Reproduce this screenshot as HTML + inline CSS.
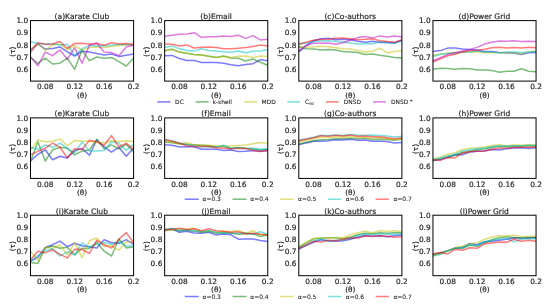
<!DOCTYPE html>
<html><head><meta charset="utf-8"><title>Figure</title>
<style>html,body{margin:0;padding:0;background:#fff}svg{display:block;filter:blur(0.3px)}</style></head>
<body>
<svg width="550" height="307" viewBox="0 0 550 307" font-family="DejaVu Sans, Liberation Sans, sans-serif" fill="#262626" stroke="#262626" stroke-width="0.18">
<rect width="550" height="307" fill="#fff" stroke="none"/>
<g>
<polyline points="30.50,49.90 37.86,43.80 45.23,49.10 52.59,48.60 59.96,46.90 67.32,51.90 74.69,56.00 82.05,51.20 89.41,51.90 96.78,53.60 104.14,55.10 111.51,54.10 118.87,56.40 126.24,55.30 133.60,53.90" fill="none" stroke="rgb(0,0,255)" stroke-opacity="0.52" stroke-width="1.5" stroke-linejoin="round"/>
<polyline points="30.50,57.20 37.86,63.40 45.23,58.20 52.59,64.00 59.96,63.20 67.32,58.20 74.69,69.30 82.05,50.10 89.41,60.70 96.78,57.00 104.14,58.20 111.51,57.40 118.87,61.70 126.24,66.00 133.60,58.20" fill="none" stroke="rgb(0,128,0)" stroke-opacity="0.52" stroke-width="1.5" stroke-linejoin="round"/>
<polyline points="30.50,49.10 37.86,44.00 45.23,50.30 52.59,45.10 59.96,44.00 67.32,49.60 74.69,45.60 82.05,50.10 89.41,47.60 96.78,47.10 104.14,47.60 111.51,46.60 118.87,45.60 126.24,45.10 133.60,45.10" fill="none" stroke="rgb(191,191,0)" stroke-opacity="0.52" stroke-width="1.5" stroke-linejoin="round"/>
<polyline points="30.50,41.80 37.86,43.50 45.23,44.00 52.59,44.00 59.96,45.10 67.32,44.20 74.69,55.70 82.05,48.60 89.41,45.60 96.78,46.10 104.14,45.90 111.51,45.30 118.87,44.20 126.24,44.60 133.60,44.90" fill="none" stroke="rgb(0,191,191)" stroke-opacity="0.52" stroke-width="1.5" stroke-linejoin="round"/>
<polyline points="30.50,52.60 37.86,42.80 45.23,44.20 52.59,44.00 59.96,41.50 67.32,48.30 74.69,43.50 82.05,43.20 89.41,44.20 96.78,43.50 104.14,45.30 111.51,42.80 118.87,44.00 126.24,43.50 133.60,44.20" fill="none" stroke="rgb(255,0,0)" stroke-opacity="0.52" stroke-width="1.5" stroke-linejoin="round"/>
<polyline points="30.50,56.70 37.86,65.70 45.23,52.10 52.59,55.70 59.96,49.90 67.32,59.20 74.69,47.60 82.05,63.20 89.41,45.30 96.78,43.00 104.14,52.10 111.51,52.60 118.87,55.70 126.24,47.10 133.60,45.30" fill="none" stroke="rgb(191,0,191)" stroke-opacity="0.52" stroke-width="1.5" stroke-linejoin="round"/>
<rect x="30.50" y="20.60" width="103.1" height="60.5" fill="none" stroke="#000" stroke-width="1.0"/>
<text x="81.90" y="19.00" font-size="7.55" text-anchor="middle">(a)Karate Club</text>
<text x="28.20" y="23.30" font-size="7.4" text-anchor="end">1.0</text>
<text x="28.20" y="35.40" font-size="7.4" text-anchor="end">0.9</text>
<text x="28.20" y="47.50" font-size="7.4" text-anchor="end">0.8</text>
<text x="28.20" y="59.60" font-size="7.4" text-anchor="end">0.7</text>
<text x="28.20" y="71.70" font-size="7.4" text-anchor="end">0.6</text>
<text x="45.23" y="89.20" font-size="7.4" text-anchor="middle">0.08</text>
<text x="74.69" y="89.20" font-size="7.4" text-anchor="middle">0.12</text>
<text x="104.14" y="89.20" font-size="7.4" text-anchor="middle">0.16</text>
<text x="133.60" y="89.20" font-size="7.4" text-anchor="middle">0.2</text>
<text x="82.05" y="97.80" font-size="7.3" text-anchor="middle">(θ)</text>
<text transform="translate(15.10,51.65) rotate(-90)" font-size="7.3" text-anchor="middle">(τ)</text>
</g>
<g>
<polyline points="164.65,55.80 172.01,55.40 179.38,58.50 186.74,60.40 194.11,60.40 201.47,62.50 208.84,62.50 216.20,62.60 223.56,63.20 230.93,64.70 238.29,65.70 245.66,64.40 253.02,63.70 260.39,59.70 267.75,60.70" fill="none" stroke="rgb(0,0,255)" stroke-opacity="0.52" stroke-width="1.5" stroke-linejoin="round"/>
<polyline points="164.65,50.80 172.01,49.20 179.38,52.10 186.74,53.30 194.11,54.50 201.47,55.00 208.84,56.30 216.20,57.50 223.56,56.00 230.93,57.90 238.29,58.20 245.66,61.00 253.02,59.10 260.39,62.20 267.75,65.30" fill="none" stroke="rgb(0,128,0)" stroke-opacity="0.52" stroke-width="1.5" stroke-linejoin="round"/>
<polyline points="164.65,50.80 172.01,49.20 179.38,52.10 186.74,53.30 194.11,54.50 201.47,55.00 208.84,56.30 216.20,57.30 223.56,56.60 230.93,57.50 238.29,56.30 245.66,56.00 253.02,57.50 260.39,56.00 267.75,56.60" fill="none" stroke="rgb(191,191,0)" stroke-opacity="0.52" stroke-width="1.5" stroke-linejoin="round"/>
<polyline points="164.65,47.60 172.01,46.10 179.38,48.60 186.74,50.40 194.11,51.10 201.47,48.80 208.84,50.40 216.20,51.00 223.56,51.70 230.93,52.30 238.29,51.10 245.66,52.70 253.02,51.30 260.39,51.10 267.75,49.80" fill="none" stroke="rgb(0,191,191)" stroke-opacity="0.52" stroke-width="1.5" stroke-linejoin="round"/>
<polyline points="164.65,43.90 172.01,44.20 179.38,45.90 186.74,44.90 194.11,48.00 201.47,47.30 208.84,47.10 216.20,47.40 223.56,48.80 230.93,48.80 238.29,48.30 245.66,47.60 253.02,46.40 260.39,45.10 267.75,46.10" fill="none" stroke="rgb(255,0,0)" stroke-opacity="0.52" stroke-width="1.5" stroke-linejoin="round"/>
<polyline points="164.65,36.20 172.01,35.20 179.38,34.30 186.74,34.00 194.11,32.70 201.47,37.40 208.84,36.80 216.20,36.80 223.56,35.90 230.93,36.40 238.29,35.20 245.66,38.40 253.02,35.60 260.39,39.90 267.75,39.30" fill="none" stroke="rgb(191,0,191)" stroke-opacity="0.52" stroke-width="1.5" stroke-linejoin="round"/>
<rect x="164.65" y="20.60" width="103.1" height="60.5" fill="none" stroke="#000" stroke-width="1.0"/>
<text x="216.05" y="19.00" font-size="7.55" text-anchor="middle">(b)Email</text>
<text x="162.35" y="23.30" font-size="7.4" text-anchor="end">1.0</text>
<text x="162.35" y="35.40" font-size="7.4" text-anchor="end">0.9</text>
<text x="162.35" y="47.50" font-size="7.4" text-anchor="end">0.8</text>
<text x="162.35" y="59.60" font-size="7.4" text-anchor="end">0.7</text>
<text x="162.35" y="71.70" font-size="7.4" text-anchor="end">0.6</text>
<text x="179.38" y="89.20" font-size="7.4" text-anchor="middle">0.08</text>
<text x="208.84" y="89.20" font-size="7.4" text-anchor="middle">0.12</text>
<text x="238.29" y="89.20" font-size="7.4" text-anchor="middle">0.16</text>
<text x="267.75" y="89.20" font-size="7.4" text-anchor="middle">0.2</text>
<text x="216.20" y="97.80" font-size="7.3" text-anchor="middle">(θ)</text>
<text transform="translate(149.25,51.65) rotate(-90)" font-size="7.3" text-anchor="middle">(τ)</text>
</g>
<g>
<polyline points="298.80,51.90 306.16,45.80 313.53,40.70 320.89,38.70 328.26,38.30 335.62,39.70 342.99,39.20 350.35,39.70 357.71,41.20 365.08,42.20 372.44,41.20 379.81,42.40 387.17,42.20 394.54,43.00 401.90,40.20" fill="none" stroke="rgb(0,0,255)" stroke-opacity="0.52" stroke-width="1.5" stroke-linejoin="round"/>
<polyline points="298.80,47.10 306.16,48.80 313.53,49.10 320.89,49.90 328.26,49.50 335.62,49.90 342.99,51.60 350.35,51.90 357.71,52.60 365.08,54.40 372.44,53.90 379.81,55.30 387.17,56.30 394.54,57.50 401.90,58.00" fill="none" stroke="rgb(0,128,0)" stroke-opacity="0.52" stroke-width="1.5" stroke-linejoin="round"/>
<polyline points="298.80,46.80 306.16,47.30 313.53,46.80 320.89,46.30 328.26,46.80 335.62,47.80 342.99,48.80 350.35,49.10 357.71,50.40 365.08,51.90 372.44,51.20 379.81,48.10 387.17,52.90 394.54,51.40 401.90,50.40" fill="none" stroke="rgb(191,191,0)" stroke-opacity="0.52" stroke-width="1.5" stroke-linejoin="round"/>
<polyline points="298.80,43.70 306.16,43.00 313.53,41.70 320.89,41.00 328.26,40.70 335.62,41.40 342.99,42.00 350.35,43.00 357.71,44.10 365.08,43.70 372.44,43.70 379.81,41.70 387.17,42.70 394.54,43.40 401.90,40.70" fill="none" stroke="rgb(0,191,191)" stroke-opacity="0.52" stroke-width="1.5" stroke-linejoin="round"/>
<polyline points="298.80,44.30 306.16,42.20 313.53,40.20 320.89,39.40 328.26,39.20 335.62,38.30 342.99,38.10 350.35,38.70 357.71,39.70 365.08,39.20 372.44,38.70 379.81,40.70 387.17,41.40 394.54,42.20 401.90,39.70" fill="none" stroke="rgb(255,0,0)" stroke-opacity="0.52" stroke-width="1.5" stroke-linejoin="round"/>
<polyline points="298.80,50.90 306.16,45.30 313.53,43.20 320.89,43.20 328.26,43.00 335.62,44.30 342.99,42.70 350.35,40.20 357.71,37.60 365.08,36.60 372.44,38.10 379.81,35.90 387.17,36.90 394.54,36.10 401.90,37.10" fill="none" stroke="rgb(191,0,191)" stroke-opacity="0.52" stroke-width="1.5" stroke-linejoin="round"/>
<rect x="298.80" y="20.60" width="103.1" height="60.5" fill="none" stroke="#000" stroke-width="1.0"/>
<text x="350.20" y="19.00" font-size="7.55" text-anchor="middle">(c)Co-authors</text>
<text x="296.50" y="23.30" font-size="7.4" text-anchor="end">1.0</text>
<text x="296.50" y="35.40" font-size="7.4" text-anchor="end">0.9</text>
<text x="296.50" y="47.50" font-size="7.4" text-anchor="end">0.8</text>
<text x="296.50" y="59.60" font-size="7.4" text-anchor="end">0.7</text>
<text x="296.50" y="71.70" font-size="7.4" text-anchor="end">0.6</text>
<text x="313.53" y="89.20" font-size="7.4" text-anchor="middle">0.08</text>
<text x="342.99" y="89.20" font-size="7.4" text-anchor="middle">0.12</text>
<text x="372.44" y="89.20" font-size="7.4" text-anchor="middle">0.16</text>
<text x="401.90" y="89.20" font-size="7.4" text-anchor="middle">0.2</text>
<text x="350.35" y="97.80" font-size="7.3" text-anchor="middle">(θ)</text>
<text transform="translate(283.40,51.65) rotate(-90)" font-size="7.3" text-anchor="middle">(τ)</text>
</g>
<g>
<polyline points="432.95,51.50 440.31,50.60 447.68,48.10 455.04,48.10 462.41,49.00 469.77,49.40 477.14,49.90 484.50,51.50 491.86,51.50 499.23,52.40 506.59,52.70 513.96,53.10 521.32,54.60 528.69,52.70 536.05,52.40" fill="none" stroke="rgb(0,0,255)" stroke-opacity="0.52" stroke-width="1.5" stroke-linejoin="round"/>
<polyline points="432.95,69.20 440.31,68.20 447.68,68.50 455.04,69.20 462.41,68.50 469.77,68.80 477.14,70.10 484.50,70.10 491.86,70.40 499.23,72.20 506.59,71.30 513.96,71.30 521.32,68.80 528.69,71.30 536.05,71.70" fill="none" stroke="rgb(0,128,0)" stroke-opacity="0.52" stroke-width="1.5" stroke-linejoin="round"/>
<polyline points="432.95,55.20 440.31,54.00 447.68,53.30 455.04,52.70 462.41,52.10 469.77,52.10 477.14,51.90 484.50,52.70 491.86,52.70 499.23,52.70 506.59,52.70 513.96,52.70 521.32,54.00 528.69,51.90 536.05,50.90" fill="none" stroke="rgb(191,191,0)" stroke-opacity="0.52" stroke-width="1.5" stroke-linejoin="round"/>
<polyline points="432.95,56.40 440.31,54.60 447.68,53.60 455.04,52.70 462.41,52.40 469.77,51.90 477.14,51.10 484.50,51.90 491.86,52.10 499.23,52.70 506.59,51.90 513.96,52.10 521.32,52.40 528.69,52.10 536.05,51.50" fill="none" stroke="rgb(0,191,191)" stroke-opacity="0.52" stroke-width="1.5" stroke-linejoin="round"/>
<polyline points="432.95,62.00 440.31,58.90 447.68,55.80 455.04,54.30 462.41,51.90 469.77,50.60 477.14,50.20 484.50,49.20 491.86,47.80 499.23,47.20 506.59,48.10 513.96,47.40 521.32,48.10 528.69,47.20 536.05,47.80" fill="none" stroke="rgb(255,0,0)" stroke-opacity="0.52" stroke-width="1.5" stroke-linejoin="round"/>
<polyline points="432.95,60.80 440.31,57.70 447.68,54.60 455.04,52.70 462.41,50.90 469.77,49.40 477.14,47.40 484.50,44.10 491.86,42.20 499.23,41.00 506.59,41.20 513.96,40.70 521.32,41.60 528.69,41.20 536.05,41.60" fill="none" stroke="rgb(191,0,191)" stroke-opacity="0.52" stroke-width="1.5" stroke-linejoin="round"/>
<rect x="432.95" y="20.60" width="103.1" height="60.5" fill="none" stroke="#000" stroke-width="1.0"/>
<text x="484.35" y="19.00" font-size="7.55" text-anchor="middle">(d)Power Grid</text>
<text x="430.65" y="23.30" font-size="7.4" text-anchor="end">1.0</text>
<text x="430.65" y="35.40" font-size="7.4" text-anchor="end">0.9</text>
<text x="430.65" y="47.50" font-size="7.4" text-anchor="end">0.8</text>
<text x="430.65" y="59.60" font-size="7.4" text-anchor="end">0.7</text>
<text x="430.65" y="71.70" font-size="7.4" text-anchor="end">0.6</text>
<text x="447.68" y="89.20" font-size="7.4" text-anchor="middle">0.08</text>
<text x="477.14" y="89.20" font-size="7.4" text-anchor="middle">0.12</text>
<text x="506.59" y="89.20" font-size="7.4" text-anchor="middle">0.16</text>
<text x="536.05" y="89.20" font-size="7.4" text-anchor="middle">0.2</text>
<text x="484.50" y="97.80" font-size="7.3" text-anchor="middle">(θ)</text>
<text transform="translate(417.55,51.65) rotate(-90)" font-size="7.3" text-anchor="middle">(τ)</text>
</g>
<g>
<polyline points="30.50,161.00 37.86,154.40 45.23,149.80 52.59,159.70 59.96,156.20 67.32,157.90 74.69,150.80 82.05,148.40 89.41,155.30 96.78,139.70 104.14,146.80 111.51,152.20 118.87,147.30 126.24,156.30 133.60,147.90" fill="none" stroke="rgb(0,0,255)" stroke-opacity="0.52" stroke-width="1.5" stroke-linejoin="round"/>
<polyline points="30.50,161.50 37.86,141.70 45.23,161.00 52.59,149.80 59.96,147.30 67.32,148.30 74.69,154.90 82.05,151.10 89.41,149.90 96.78,139.40 104.14,148.90 111.51,144.80 118.87,148.90 126.24,144.30 133.60,151.90" fill="none" stroke="rgb(0,128,0)" stroke-opacity="0.52" stroke-width="1.5" stroke-linejoin="round"/>
<polyline points="30.50,150.30 37.86,139.90 45.23,141.70 52.59,141.30 59.96,138.90 67.32,145.70 74.69,140.60 82.05,141.00 89.41,141.20 96.78,142.10 104.14,143.10 111.51,140.70 118.87,141.40 126.24,140.70 133.60,141.40" fill="none" stroke="rgb(191,191,0)" stroke-opacity="0.52" stroke-width="1.5" stroke-linejoin="round"/>
<polyline points="30.50,147.30 37.86,149.30 45.23,145.00 52.59,147.30 59.96,143.20 67.32,148.30 74.69,152.90 82.05,141.90 89.41,150.90 96.78,150.90 104.14,150.40 111.51,141.70 118.87,143.30 126.24,150.40 133.60,144.30" fill="none" stroke="rgb(0,191,191)" stroke-opacity="0.52" stroke-width="1.5" stroke-linejoin="round"/>
<polyline points="30.50,154.90 37.86,151.30 45.23,148.10 52.59,143.20 59.96,147.30 67.32,157.90 74.69,148.80 82.05,149.60 89.41,140.20 96.78,142.10 104.14,145.30 111.51,135.60 118.87,146.80 126.24,143.30 133.60,149.40" fill="none" stroke="rgb(255,0,0)" stroke-opacity="0.52" stroke-width="1.5" stroke-linejoin="round"/>
<rect x="30.50" y="117.90" width="103.1" height="60.5" fill="none" stroke="#000" stroke-width="1.0"/>
<text x="81.90" y="116.30" font-size="7.55" text-anchor="middle">(e)Karate Club</text>
<text x="28.20" y="120.60" font-size="7.4" text-anchor="end">1.0</text>
<text x="28.20" y="132.70" font-size="7.4" text-anchor="end">0.9</text>
<text x="28.20" y="144.80" font-size="7.4" text-anchor="end">0.8</text>
<text x="28.20" y="156.90" font-size="7.4" text-anchor="end">0.7</text>
<text x="28.20" y="169.00" font-size="7.4" text-anchor="end">0.6</text>
<text x="45.23" y="186.50" font-size="7.4" text-anchor="middle">0.08</text>
<text x="74.69" y="186.50" font-size="7.4" text-anchor="middle">0.12</text>
<text x="104.14" y="186.50" font-size="7.4" text-anchor="middle">0.16</text>
<text x="133.60" y="186.50" font-size="7.4" text-anchor="middle">0.2</text>
<text x="82.05" y="195.10" font-size="7.3" text-anchor="middle">(θ)</text>
<text transform="translate(15.10,148.95) rotate(-90)" font-size="7.3" text-anchor="middle">(τ)</text>
</g>
<g>
<polyline points="164.65,144.80 172.01,145.30 179.38,147.10 186.74,146.80 194.11,146.80 201.47,149.30 208.84,149.30 216.20,149.20 223.56,150.40 230.93,149.90 238.29,151.40 245.66,151.20 253.02,150.40 260.39,151.20 267.75,150.40" fill="none" stroke="rgb(0,0,255)" stroke-opacity="0.52" stroke-width="1.5" stroke-linejoin="round"/>
<polyline points="164.65,142.00 172.01,142.70 179.38,143.70 186.74,144.30 194.11,144.80 201.47,145.30 208.84,145.80 216.20,146.80 223.56,146.30 230.93,148.50 238.29,147.50 245.66,148.30 253.02,148.80 260.39,149.90 267.75,149.10" fill="none" stroke="rgb(0,128,0)" stroke-opacity="0.52" stroke-width="1.5" stroke-linejoin="round"/>
<polyline points="164.65,141.20 172.01,142.20 179.38,143.70 186.74,142.40 194.11,145.10 201.47,145.30 208.84,145.30 216.20,145.80 223.56,146.10 230.93,146.10 238.29,145.50 245.66,145.10 253.02,143.70 260.39,142.40 267.75,143.20" fill="none" stroke="rgb(191,191,0)" stroke-opacity="0.52" stroke-width="1.5" stroke-linejoin="round"/>
<polyline points="164.65,139.70 172.01,140.70 179.38,143.00 186.74,144.80 194.11,145.80 201.47,146.80 208.84,146.80 216.20,147.20 223.56,145.30 230.93,148.30 238.29,147.80 245.66,148.80 253.02,148.30 260.39,149.30 267.75,149.30" fill="none" stroke="rgb(0,191,191)" stroke-opacity="0.52" stroke-width="1.5" stroke-linejoin="round"/>
<polyline points="164.65,139.40 172.01,141.20 179.38,143.20 186.74,145.80 194.11,146.50 201.47,146.50 208.84,146.50 216.20,147.80 223.56,148.30 230.93,148.80 238.29,148.50 245.66,148.30 253.02,150.40 260.39,151.40 267.75,150.40" fill="none" stroke="rgb(255,0,0)" stroke-opacity="0.52" stroke-width="1.5" stroke-linejoin="round"/>
<rect x="164.65" y="117.90" width="103.1" height="60.5" fill="none" stroke="#000" stroke-width="1.0"/>
<text x="216.05" y="116.30" font-size="7.55" text-anchor="middle">(f)Email</text>
<text x="162.35" y="120.60" font-size="7.4" text-anchor="end">1.0</text>
<text x="162.35" y="132.70" font-size="7.4" text-anchor="end">0.9</text>
<text x="162.35" y="144.80" font-size="7.4" text-anchor="end">0.8</text>
<text x="162.35" y="156.90" font-size="7.4" text-anchor="end">0.7</text>
<text x="162.35" y="169.00" font-size="7.4" text-anchor="end">0.6</text>
<text x="179.38" y="186.50" font-size="7.4" text-anchor="middle">0.08</text>
<text x="208.84" y="186.50" font-size="7.4" text-anchor="middle">0.12</text>
<text x="238.29" y="186.50" font-size="7.4" text-anchor="middle">0.16</text>
<text x="267.75" y="186.50" font-size="7.4" text-anchor="middle">0.2</text>
<text x="216.20" y="195.10" font-size="7.3" text-anchor="middle">(θ)</text>
<text transform="translate(149.25,148.95) rotate(-90)" font-size="7.3" text-anchor="middle">(τ)</text>
</g>
<g>
<polyline points="298.80,144.90 306.16,142.90 313.53,141.30 320.89,141.30 328.26,140.80 335.62,139.80 342.99,140.10 350.35,139.30 357.71,140.30 365.08,140.10 372.44,141.30 379.81,141.30 387.17,141.50 394.54,142.90 401.90,142.60" fill="none" stroke="rgb(0,0,255)" stroke-opacity="0.52" stroke-width="1.5" stroke-linejoin="round"/>
<polyline points="298.80,143.90 306.16,142.20 313.53,140.80 320.89,139.80 328.26,139.50 335.62,138.80 342.99,138.80 350.35,138.30 357.71,138.80 365.08,138.30 372.44,139.50 379.81,139.30 387.17,139.50 394.54,140.30 401.90,139.30" fill="none" stroke="rgb(0,128,0)" stroke-opacity="0.52" stroke-width="1.5" stroke-linejoin="round"/>
<polyline points="298.80,141.90 306.16,140.30 313.53,138.80 320.89,137.30 328.26,137.50 335.62,136.80 342.99,137.30 350.35,136.80 357.71,137.30 365.08,137.50 372.44,138.10 379.81,137.80 387.17,138.80 394.54,139.80 401.90,138.80" fill="none" stroke="rgb(191,191,0)" stroke-opacity="0.52" stroke-width="1.5" stroke-linejoin="round"/>
<polyline points="298.80,140.10 306.16,138.80 313.53,137.30 320.89,135.20 328.26,135.40 335.62,135.00 342.99,135.40 350.35,134.60 357.71,135.00 365.08,135.20 372.44,135.00 379.81,135.40 387.17,136.10 394.54,137.10 401.90,136.30" fill="none" stroke="rgb(0,191,191)" stroke-opacity="0.52" stroke-width="1.5" stroke-linejoin="round"/>
<polyline points="298.80,140.80 306.16,139.30 313.53,137.80 320.89,135.70 328.26,136.30 335.62,135.20 342.99,136.10 350.35,135.10 357.71,136.30 365.08,136.10 372.44,136.80 379.81,136.80 387.17,137.80 394.54,138.80 401.90,137.80" fill="none" stroke="rgb(255,0,0)" stroke-opacity="0.52" stroke-width="1.5" stroke-linejoin="round"/>
<rect x="298.80" y="117.90" width="103.1" height="60.5" fill="none" stroke="#000" stroke-width="1.0"/>
<text x="350.20" y="116.30" font-size="7.55" text-anchor="middle">(g)Co-authors</text>
<text x="296.50" y="120.60" font-size="7.4" text-anchor="end">1.0</text>
<text x="296.50" y="132.70" font-size="7.4" text-anchor="end">0.9</text>
<text x="296.50" y="144.80" font-size="7.4" text-anchor="end">0.8</text>
<text x="296.50" y="156.90" font-size="7.4" text-anchor="end">0.7</text>
<text x="296.50" y="169.00" font-size="7.4" text-anchor="end">0.6</text>
<text x="313.53" y="186.50" font-size="7.4" text-anchor="middle">0.08</text>
<text x="342.99" y="186.50" font-size="7.4" text-anchor="middle">0.12</text>
<text x="372.44" y="186.50" font-size="7.4" text-anchor="middle">0.16</text>
<text x="401.90" y="186.50" font-size="7.4" text-anchor="middle">0.2</text>
<text x="350.35" y="195.10" font-size="7.3" text-anchor="middle">(θ)</text>
<text transform="translate(283.40,148.95) rotate(-90)" font-size="7.3" text-anchor="middle">(τ)</text>
</g>
<g>
<polyline points="432.95,160.40 440.31,159.60 447.68,157.40 455.04,154.80 462.41,154.80 469.77,152.10 477.14,151.30 484.50,150.90 491.86,149.50 499.23,149.90 506.59,148.80 513.96,148.10 521.32,147.80 528.69,148.50 536.05,147.80" fill="none" stroke="rgb(0,0,255)" stroke-opacity="0.52" stroke-width="1.5" stroke-linejoin="round"/>
<polyline points="432.95,160.90 440.31,158.90 447.68,156.90 455.04,155.30 462.41,152.80 469.77,151.30 477.14,149.70 484.50,149.10 491.86,147.50 499.23,146.50 506.59,146.80 513.96,146.30 521.32,146.30 528.69,146.10 536.05,146.10" fill="none" stroke="rgb(0,128,0)" stroke-opacity="0.52" stroke-width="1.5" stroke-linejoin="round"/>
<polyline points="432.95,158.90 440.31,156.90 447.68,154.30 455.04,152.80 462.41,149.70 469.77,148.20 477.14,147.70 484.50,146.90 491.86,145.50 499.23,144.80 506.59,145.80 513.96,145.10 521.32,145.30 528.69,144.80 536.05,145.10" fill="none" stroke="rgb(191,191,0)" stroke-opacity="0.52" stroke-width="1.5" stroke-linejoin="round"/>
<polyline points="432.95,159.60 440.31,157.90 447.68,155.90 455.04,154.30 462.41,151.30 469.77,149.70 477.14,148.70 484.50,148.10 491.86,146.80 499.23,145.80 506.59,146.10 513.96,145.80 521.32,145.80 528.69,145.30 536.05,145.50" fill="none" stroke="rgb(0,191,191)" stroke-opacity="0.52" stroke-width="1.5" stroke-linejoin="round"/>
<polyline points="432.95,159.60 440.31,160.40 447.68,157.60 455.04,157.90 462.41,152.80 469.77,151.80 477.14,151.30 484.50,150.90 491.86,149.30 499.23,148.30 506.59,148.10 513.96,147.50 521.32,147.30 528.69,147.30 536.05,147.10" fill="none" stroke="rgb(255,0,0)" stroke-opacity="0.52" stroke-width="1.5" stroke-linejoin="round"/>
<rect x="432.95" y="117.90" width="103.1" height="60.5" fill="none" stroke="#000" stroke-width="1.0"/>
<text x="484.35" y="116.30" font-size="7.55" text-anchor="middle">(h)Power Grid</text>
<text x="430.65" y="120.60" font-size="7.4" text-anchor="end">1.0</text>
<text x="430.65" y="132.70" font-size="7.4" text-anchor="end">0.9</text>
<text x="430.65" y="144.80" font-size="7.4" text-anchor="end">0.8</text>
<text x="430.65" y="156.90" font-size="7.4" text-anchor="end">0.7</text>
<text x="430.65" y="169.00" font-size="7.4" text-anchor="end">0.6</text>
<text x="447.68" y="186.50" font-size="7.4" text-anchor="middle">0.08</text>
<text x="477.14" y="186.50" font-size="7.4" text-anchor="middle">0.12</text>
<text x="506.59" y="186.50" font-size="7.4" text-anchor="middle">0.16</text>
<text x="536.05" y="186.50" font-size="7.4" text-anchor="middle">0.2</text>
<text x="484.50" y="195.10" font-size="7.3" text-anchor="middle">(θ)</text>
<text transform="translate(417.55,148.95) rotate(-90)" font-size="7.3" text-anchor="middle">(τ)</text>
</g>
<g>
<polyline points="30.50,261.00 37.86,257.40 45.23,247.80 52.59,244.70 59.96,241.10 67.32,246.70 74.69,243.20 82.05,245.70 89.41,246.80 96.78,247.90 104.14,239.70 111.51,242.80 118.87,243.30 126.24,239.70 133.60,244.30" fill="none" stroke="rgb(0,0,255)" stroke-opacity="0.52" stroke-width="1.5" stroke-linejoin="round"/>
<polyline points="30.50,262.50 37.86,263.50 45.23,247.80 52.59,246.00 59.96,248.30 67.32,247.30 74.69,254.90 82.05,248.30 89.41,248.40 96.78,242.30 104.14,251.20 111.51,256.00 118.87,238.70 126.24,247.90 133.60,246.80" fill="none" stroke="rgb(0,128,0)" stroke-opacity="0.52" stroke-width="1.5" stroke-linejoin="round"/>
<polyline points="30.50,251.30 37.86,260.50 45.23,247.30 52.59,248.30 59.96,245.00 67.32,254.90 74.69,242.70 82.05,257.70 89.41,240.70 96.78,238.00 104.14,246.30 111.51,245.80 118.87,250.20 126.24,241.70 133.60,242.30" fill="none" stroke="rgb(191,191,0)" stroke-opacity="0.52" stroke-width="1.5" stroke-linejoin="round"/>
<polyline points="30.50,262.00 37.86,255.40 45.23,250.80 52.59,248.80 59.96,255.90 67.32,251.80 74.69,254.90 82.05,242.90 89.41,247.30 96.78,244.30 104.14,242.80 111.51,244.30 118.87,241.70 126.24,246.30 133.60,245.80" fill="none" stroke="rgb(0,191,191)" stroke-opacity="0.52" stroke-width="1.5" stroke-linejoin="round"/>
<polyline points="30.50,260.00 37.86,251.30 45.23,252.90 52.59,249.80 59.96,254.40 67.32,257.90 74.69,249.30 82.05,249.40 89.41,253.50 96.78,240.20 104.14,244.80 111.51,247.90 118.87,239.20 126.24,232.60 133.60,242.80" fill="none" stroke="rgb(255,0,0)" stroke-opacity="0.52" stroke-width="1.5" stroke-linejoin="round"/>
<rect x="30.50" y="215.20" width="103.1" height="60.5" fill="none" stroke="#000" stroke-width="1.0"/>
<text x="81.90" y="213.60" font-size="7.55" text-anchor="middle">(i)Karate Club</text>
<text x="28.20" y="217.90" font-size="7.4" text-anchor="end">1.0</text>
<text x="28.20" y="230.00" font-size="7.4" text-anchor="end">0.9</text>
<text x="28.20" y="242.10" font-size="7.4" text-anchor="end">0.8</text>
<text x="28.20" y="254.20" font-size="7.4" text-anchor="end">0.7</text>
<text x="28.20" y="266.30" font-size="7.4" text-anchor="end">0.6</text>
<text x="45.23" y="283.80" font-size="7.4" text-anchor="middle">0.08</text>
<text x="74.69" y="283.80" font-size="7.4" text-anchor="middle">0.12</text>
<text x="104.14" y="283.80" font-size="7.4" text-anchor="middle">0.16</text>
<text x="133.60" y="283.80" font-size="7.4" text-anchor="middle">0.2</text>
<text x="82.05" y="292.40" font-size="7.3" text-anchor="middle">(θ)</text>
<text transform="translate(15.10,246.25) rotate(-90)" font-size="7.3" text-anchor="middle">(τ)</text>
</g>
<g>
<polyline points="164.65,230.00 172.01,229.00 179.38,232.30 186.74,231.20 194.11,233.10 201.47,233.30 208.84,232.30 216.20,235.10 223.56,234.10 230.93,234.80 238.29,239.20 245.66,238.90 253.02,238.90 260.39,240.40 267.75,241.40" fill="none" stroke="rgb(0,0,255)" stroke-opacity="0.52" stroke-width="1.5" stroke-linejoin="round"/>
<polyline points="164.65,230.20 172.01,229.40 179.38,230.70 186.74,230.20 194.11,231.20 201.47,232.30 208.84,231.20 216.20,233.30 223.56,232.80 230.93,233.30 238.29,234.30 245.66,233.80 253.02,233.80 260.39,236.50 267.75,234.80" fill="none" stroke="rgb(0,128,0)" stroke-opacity="0.52" stroke-width="1.5" stroke-linejoin="round"/>
<polyline points="164.65,230.70 172.01,229.70 179.38,229.20 186.74,229.20 194.11,228.00 201.47,231.70 208.84,230.70 216.20,232.30 223.56,231.20 230.93,231.70 238.29,230.40 245.66,233.30 253.02,230.70 260.39,234.80 267.75,234.80" fill="none" stroke="rgb(191,191,0)" stroke-opacity="0.52" stroke-width="1.5" stroke-linejoin="round"/>
<polyline points="164.65,229.70 172.01,228.20 179.38,230.20 186.74,230.00 194.11,230.40 201.47,231.40 208.84,230.70 216.20,232.30 223.56,232.80 230.93,233.30 238.29,233.30 245.66,233.10 253.02,234.30 260.39,231.70 267.75,234.30" fill="none" stroke="rgb(0,191,191)" stroke-opacity="0.52" stroke-width="1.5" stroke-linejoin="round"/>
<polyline points="164.65,229.40 172.01,229.20 179.38,228.20 186.74,229.40 194.11,228.70 201.47,230.70 208.84,228.70 216.20,230.70 223.56,231.20 230.93,232.30 238.29,231.70 245.66,233.80 253.02,233.30 260.39,234.30 267.75,235.10" fill="none" stroke="rgb(255,0,0)" stroke-opacity="0.52" stroke-width="1.5" stroke-linejoin="round"/>
<rect x="164.65" y="215.20" width="103.1" height="60.5" fill="none" stroke="#000" stroke-width="1.0"/>
<text x="216.05" y="213.60" font-size="7.55" text-anchor="middle">(j)Email</text>
<text x="162.35" y="217.90" font-size="7.4" text-anchor="end">1.0</text>
<text x="162.35" y="230.00" font-size="7.4" text-anchor="end">0.9</text>
<text x="162.35" y="242.10" font-size="7.4" text-anchor="end">0.8</text>
<text x="162.35" y="254.20" font-size="7.4" text-anchor="end">0.7</text>
<text x="162.35" y="266.30" font-size="7.4" text-anchor="end">0.6</text>
<text x="179.38" y="283.80" font-size="7.4" text-anchor="middle">0.08</text>
<text x="208.84" y="283.80" font-size="7.4" text-anchor="middle">0.12</text>
<text x="238.29" y="283.80" font-size="7.4" text-anchor="middle">0.16</text>
<text x="267.75" y="283.80" font-size="7.4" text-anchor="middle">0.2</text>
<text x="216.20" y="292.40" font-size="7.3" text-anchor="middle">(θ)</text>
<text transform="translate(149.25,246.25) rotate(-90)" font-size="7.3" text-anchor="middle">(τ)</text>
</g>
<g>
<polyline points="298.80,249.00 306.16,245.60 313.53,242.20 320.89,239.80 328.26,240.80 335.62,241.30 342.99,240.80 350.35,239.30 357.71,237.30 365.08,235.50 372.44,236.30 379.81,235.80 387.17,236.80 394.54,235.80 401.90,235.10" fill="none" stroke="rgb(0,0,255)" stroke-opacity="0.52" stroke-width="1.5" stroke-linejoin="round"/>
<polyline points="298.80,247.50 306.16,242.90 313.53,238.80 320.89,238.30 328.26,237.80 335.62,237.80 342.99,238.80 350.35,237.30 357.71,234.80 365.08,233.30 372.44,233.80 379.81,232.80 387.17,233.30 394.54,232.80 401.90,232.80" fill="none" stroke="rgb(0,128,0)" stroke-opacity="0.52" stroke-width="1.5" stroke-linejoin="round"/>
<polyline points="298.80,246.40 306.16,242.40 313.53,238.50 320.89,238.10 328.26,237.80 335.62,237.80 342.99,237.80 350.35,235.00 357.71,232.80 365.08,231.20 372.44,232.80 379.81,230.70 387.17,231.20 394.54,230.70 401.90,231.70" fill="none" stroke="rgb(191,191,0)" stroke-opacity="0.52" stroke-width="1.5" stroke-linejoin="round"/>
<polyline points="298.80,248.00 306.16,244.90 313.53,240.80 320.89,239.30 328.26,241.30 335.62,240.30 342.99,239.80 350.35,238.30 357.71,235.80 365.08,234.30 372.44,234.80 379.81,233.80 387.17,234.30 394.54,234.30 401.90,233.80" fill="none" stroke="rgb(0,191,191)" stroke-opacity="0.52" stroke-width="1.5" stroke-linejoin="round"/>
<polyline points="298.80,248.70 306.16,244.90 313.53,241.30 320.89,241.90 328.26,240.30 335.62,240.80 342.99,239.30 350.35,238.10 357.71,237.90 365.08,236.10 372.44,236.50 379.81,235.80 387.17,236.30 394.54,237.30 401.90,236.80" fill="none" stroke="rgb(255,0,0)" stroke-opacity="0.52" stroke-width="1.5" stroke-linejoin="round"/>
<rect x="298.80" y="215.20" width="103.1" height="60.5" fill="none" stroke="#000" stroke-width="1.0"/>
<text x="350.20" y="213.60" font-size="7.55" text-anchor="middle">(k)Co-authors</text>
<text x="296.50" y="217.90" font-size="7.4" text-anchor="end">1.0</text>
<text x="296.50" y="230.00" font-size="7.4" text-anchor="end">0.9</text>
<text x="296.50" y="242.10" font-size="7.4" text-anchor="end">0.8</text>
<text x="296.50" y="254.20" font-size="7.4" text-anchor="end">0.7</text>
<text x="296.50" y="266.30" font-size="7.4" text-anchor="end">0.6</text>
<text x="313.53" y="283.80" font-size="7.4" text-anchor="middle">0.08</text>
<text x="342.99" y="283.80" font-size="7.4" text-anchor="middle">0.12</text>
<text x="372.44" y="283.80" font-size="7.4" text-anchor="middle">0.16</text>
<text x="401.90" y="283.80" font-size="7.4" text-anchor="middle">0.2</text>
<text x="350.35" y="292.40" font-size="7.3" text-anchor="middle">(θ)</text>
<text transform="translate(283.40,246.25) rotate(-90)" font-size="7.3" text-anchor="middle">(τ)</text>
</g>
<g>
<polyline points="432.95,254.60 440.31,252.90 447.68,250.80 455.04,248.10 462.41,247.30 469.77,243.40 477.14,244.70 484.50,241.80 491.86,241.30 499.23,240.30 506.59,239.30 513.96,237.80 521.32,238.30 528.69,237.80 536.05,237.80" fill="none" stroke="rgb(0,0,255)" stroke-opacity="0.52" stroke-width="1.5" stroke-linejoin="round"/>
<polyline points="432.95,254.90 440.31,252.90 447.68,250.80 455.04,248.30 462.41,248.30 469.77,245.20 477.14,246.30 484.50,243.00 491.86,239.80 499.23,237.80 506.59,236.80 513.96,237.80 521.32,237.80 528.69,237.80 536.05,237.30" fill="none" stroke="rgb(0,128,0)" stroke-opacity="0.52" stroke-width="1.5" stroke-linejoin="round"/>
<polyline points="432.95,255.60 440.31,253.90 447.68,250.80 455.04,247.80 462.41,246.30 469.77,243.70 477.14,242.70 484.50,239.20 491.86,237.30 499.23,235.70 506.59,236.10 513.96,235.20 521.32,236.80 528.69,236.30 536.05,236.30" fill="none" stroke="rgb(191,191,0)" stroke-opacity="0.52" stroke-width="1.5" stroke-linejoin="round"/>
<polyline points="432.95,255.90 440.31,254.60 447.68,251.10 455.04,248.10 462.41,247.80 469.77,244.70 477.14,245.20 484.50,241.80 491.86,240.30 499.23,239.30 506.59,238.50 513.96,241.90 521.32,239.30 528.69,238.80 536.05,238.80" fill="none" stroke="rgb(0,191,191)" stroke-opacity="0.52" stroke-width="1.5" stroke-linejoin="round"/>
<polyline points="432.95,253.90 440.31,252.40 447.68,253.90 455.04,249.30 462.41,250.30 469.77,247.80 477.14,248.30 484.50,243.80 491.86,242.90 499.23,241.90 506.59,242.20 513.96,239.30 521.32,241.30 528.69,240.30 536.05,241.30" fill="none" stroke="rgb(255,0,0)" stroke-opacity="0.52" stroke-width="1.5" stroke-linejoin="round"/>
<rect x="432.95" y="215.20" width="103.1" height="60.5" fill="none" stroke="#000" stroke-width="1.0"/>
<text x="484.35" y="213.60" font-size="7.55" text-anchor="middle">(l)Power Grid</text>
<text x="430.65" y="217.90" font-size="7.4" text-anchor="end">1.0</text>
<text x="430.65" y="230.00" font-size="7.4" text-anchor="end">0.9</text>
<text x="430.65" y="242.10" font-size="7.4" text-anchor="end">0.8</text>
<text x="430.65" y="254.20" font-size="7.4" text-anchor="end">0.7</text>
<text x="430.65" y="266.30" font-size="7.4" text-anchor="end">0.6</text>
<text x="447.68" y="283.80" font-size="7.4" text-anchor="middle">0.08</text>
<text x="477.14" y="283.80" font-size="7.4" text-anchor="middle">0.12</text>
<text x="506.59" y="283.80" font-size="7.4" text-anchor="middle">0.16</text>
<text x="536.05" y="283.80" font-size="7.4" text-anchor="middle">0.2</text>
<text x="484.50" y="292.40" font-size="7.3" text-anchor="middle">(θ)</text>
<text transform="translate(417.55,246.25) rotate(-90)" font-size="7.3" text-anchor="middle">(τ)</text>
</g>
<line x1="157.3" y1="101.9" x2="170.5" y2="101.9" stroke="rgb(0,0,255)" stroke-opacity="0.52" stroke-width="1.5"/>
<text x="175.1" y="104.00" font-size="5.95" stroke-width="0.08">DC</text>
<line x1="195.5" y1="101.9" x2="208.7" y2="101.9" stroke="rgb(0,128,0)" stroke-opacity="0.52" stroke-width="1.5"/>
<text x="212.5" y="104.00" font-size="5.95" stroke-width="0.08">k-shell</text>
<line x1="244.3" y1="101.9" x2="257" y2="101.9" stroke="rgb(191,191,0)" stroke-opacity="0.52" stroke-width="1.5"/>
<text x="261.6" y="104.00" font-size="5.95" stroke-width="0.08">MDD</text>
<line x1="287.3" y1="101.9" x2="300" y2="101.9" stroke="rgb(0,191,191)" stroke-opacity="0.52" stroke-width="1.5"/>
<text x="305.1" y="104.00" font-size="5.95" stroke-width="0.08">C<tspan font-size="4.3" dy="1">nc</tspan></text>
<line x1="326" y1="101.9" x2="338.7" y2="101.9" stroke="rgb(255,0,0)" stroke-opacity="0.52" stroke-width="1.5"/>
<text x="343.8" y="104.00" font-size="5.95" stroke-width="0.08">DNSD</text>
<line x1="373" y1="101.9" x2="385.8" y2="101.9" stroke="rgb(191,0,191)" stroke-opacity="0.52" stroke-width="1.5"/>
<text x="390.9" y="104.00" font-size="5.95" stroke-width="0.08">DNSD<tspan font-size="4" dy="-2"> +</tspan></text>
<line x1="184.7" y1="199.2" x2="198.7" y2="199.2" stroke="rgb(0,0,255)" stroke-opacity="0.52" stroke-width="1.5"/>
<text x="202.5" y="201.30" font-size="5.95" stroke-width="0.08">α=0.3</text>
<line x1="232.5" y1="199.2" x2="246.5" y2="199.2" stroke="rgb(0,128,0)" stroke-opacity="0.52" stroke-width="1.5"/>
<text x="250.3" y="201.30" font-size="5.95" stroke-width="0.08">α=0.4</text>
<line x1="280.2" y1="199.2" x2="293.4" y2="199.2" stroke="rgb(191,191,0)" stroke-opacity="0.52" stroke-width="1.5"/>
<text x="298" y="201.30" font-size="5.95" stroke-width="0.08">α=0.5</text>
<line x1="328" y1="199.2" x2="341.2" y2="199.2" stroke="rgb(0,191,191)" stroke-opacity="0.52" stroke-width="1.5"/>
<text x="345.8" y="201.30" font-size="5.95" stroke-width="0.08">α=0.6</text>
<line x1="375.6" y1="199.2" x2="388.8" y2="199.2" stroke="rgb(255,0,0)" stroke-opacity="0.52" stroke-width="1.5"/>
<text x="393.4" y="201.30" font-size="5.95" stroke-width="0.08">α=0.7</text>
<line x1="184.7" y1="296.5" x2="198.7" y2="296.5" stroke="rgb(0,0,255)" stroke-opacity="0.52" stroke-width="1.5"/>
<text x="202.5" y="298.60" font-size="5.95" stroke-width="0.08">α=0.3</text>
<line x1="232.5" y1="296.5" x2="246.5" y2="296.5" stroke="rgb(0,128,0)" stroke-opacity="0.52" stroke-width="1.5"/>
<text x="250.3" y="298.60" font-size="5.95" stroke-width="0.08">α=0.4</text>
<line x1="280.2" y1="296.5" x2="293.4" y2="296.5" stroke="rgb(191,191,0)" stroke-opacity="0.52" stroke-width="1.5"/>
<text x="298" y="298.60" font-size="5.95" stroke-width="0.08">α=0.5</text>
<line x1="328" y1="296.5" x2="341.2" y2="296.5" stroke="rgb(0,191,191)" stroke-opacity="0.52" stroke-width="1.5"/>
<text x="345.8" y="298.60" font-size="5.95" stroke-width="0.08">α=0.6</text>
<line x1="375.6" y1="296.5" x2="388.8" y2="296.5" stroke="rgb(255,0,0)" stroke-opacity="0.52" stroke-width="1.5"/>
<text x="393.4" y="298.60" font-size="5.95" stroke-width="0.08">α=0.7</text>
</svg>
</body></html>
